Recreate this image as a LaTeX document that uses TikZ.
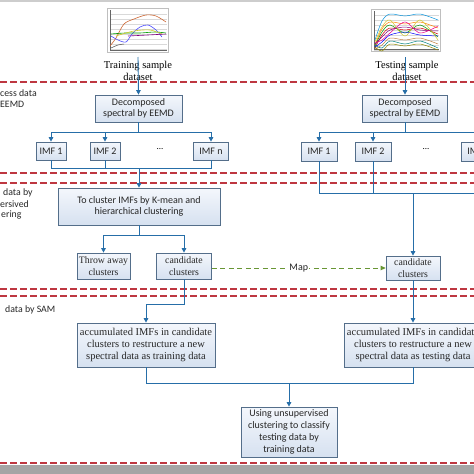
\documentclass[tikz,border=0pt]{standalone}
\usepackage{fontspec}
\setmainfont{Liberation Serif}
\newfontfamily\calib{Carlito}
\usetikzlibrary{positioning,arrows.meta,calc}
\definecolor{boxline}{RGB}{84,110,138}
\definecolor{boxtop}{RGB}{244,247,252}
\definecolor{boxbot}{RGB}{214,225,240}
\definecolor{flowline}{RGB}{38,110,168}
\definecolor{sepred}{RGB}{190,55,65}
\definecolor{mapgreen}{RGB}{104,150,52}
\definecolor{barlight}{RGB}{205,205,205}
\definecolor{bardark}{RGB}{165,165,165}

\begin{document}
\begin{tikzpicture}[x=1pt, y=-1pt,
    box/.style={draw=boxline, line width=0.7pt, top color=boxtop, bottom color=boxbot, inner sep=1pt, align=center, text=black!85},
    sbox/.style={box, font=\calib\fontsize{10}{11.5}\selectfont},
    tbox/.style={box, font=\fontsize{9.8}{11.5}\selectfont},
    line/.style={flowline, line width=0.9pt},
    arr/.style={line, -{Triangle[length=4.5pt,width=4.5pt]}},
    sep/.style={sepred, line width=1.1pt, dash pattern=on 7pt off 3pt},
    lbl/.style={anchor=west, inner sep=0pt, font=\calib\fontsize{9.8}{11}\selectfont, text=black!85}]
    \useasboundingbox (0,0) rectangle (474,474);
    \fill[barlight] (0,0) rectangle (474,2);
    \fill[bardark] (0,465) rectangle (474,474);

    % sample plots
    \draw[black!25, line width=0.3pt] (107,8) rectangle (168,52);
    \foreach \gy in {14,19,...,49} \draw[black!15, line width=0.3pt] (110,\gy) -- (167,\gy);
    \draw[black!60, line width=0.4pt] (110,10) -- (110,50) -- (167,50);
    \draw[brown!80!red, line width=0.6pt] plot[smooth] coordinates {(110,46) (116,38) (124,24) (134,19) (146,15) (156,16) (166,22)};
    \draw[blue!70, line width=0.6pt] plot[smooth] coordinates {(111,36) (118,40) (126,42) (132,34) (140,27) (148,25) (156,30) (162,37)};
    \draw[green!60!black, line width=0.6pt] plot[smooth] coordinates {(111,34) (125,33) (140,33) (155,32) (166,33)};
    \draw[yellow!80!black, line width=0.6pt] plot[smooth] coordinates {(116,36) (134,31) (150,30) (162,34)};
    \draw[violet, line width=0.6pt] plot[smooth] coordinates {(128,36) (148,35) (166,34)};
    \draw[black!70, line width=0.5pt] plot[smooth] coordinates {(111,48) (118,45) (124,44)};

    \draw[black!25, line width=0.3pt] (371,9) rectangle (440,51);
    \foreach \gy in {15,20,...,50} \draw[black!15, line width=0.3pt] (374,\gy) -- (439,\gy);
    \draw[black!60, line width=0.4pt] (374,11) -- (374,49) -- (439,49);
    \foreach \c/\a/\b/\d in {cyan!80!blue/40/14/16, orange/45/22/24, red!80!black/48/28/30, green!60!black/46/25/33, violet/44/30/27, blue/47/35/32, yellow!80!black/42/20/36, brown/49/38/40, magenta/43/33/22, teal/45/41/44, olive/47/44/46}
        \draw[\c, line width=0.5pt] plot[smooth] coordinates {(375,\a) (382,\b+7) (390,\b) (405,\d) (420,\b) (438,\d+4)};

    \node[font=\fontsize{10.5}{12}\selectfont, align=center, inner sep=0pt] (trtxt) at (138,71) {Training sample\\dataset};
    \node[font=\fontsize{10.5}{12}\selectfont, align=center, inner sep=0pt] (tetxt) at (407,71) {Testing sample\\dataset};
    \coordinate (trsrc) at (138,57);
    \coordinate (tesrc) at (405,57);

    % separators
    \foreach \sy in {82,173,183,289,296,463} \draw[sep] (0,\sy) -- (474,\sy);

    % side labels
    \node[lbl] (lbla) at (0,93) {cess data};
    \node[lbl] (lblb) at (0,104) {EEMD};
    \node[lbl] (lblc) at (3,193) {data by};
    \node[lbl] (lbld) at (0,204) {ersived};
    \node[lbl] (lble) at (1,215) {ering};
    \node[lbl] (lblf) at (5,310) {data by SAM};

    % training side
    \node[sbox, minimum width=87pt, minimum height=27pt] (dtr) at (138.5,108.5) {Decomposed\\spectral by EEMD};
    \node[sbox, minimum width=30pt, minimum height=18pt] (imfa1) at (51,151) {IMF 1};
    \node[sbox, minimum width=30pt, minimum height=18pt] (imfa2) at (105,151) {IMF 2};
    \node[font=\calib\fontsize{9}{11}\selectfont] (dotsa) at (160,149) {...};
    \node[sbox, minimum width=35pt, minimum height=18pt] (imfan) at (211,151) {IMF n};
    \node[sbox, minimum width=162pt, minimum height=37pt] (clus) at (139,206.5) {To cluster IMFs by K-mean and\\hierarchical clustering};
    \node[tbox, minimum width=53pt, minimum height=26pt] (throw) at (103.5,266) {Throw away\\clusters};
    \node[tbox, minimum width=55pt, minimum height=26pt] (cand1) at (184,266) {candidate\\clusters};
    \node[tbox, minimum width=138pt, minimum height=44pt, font=\fontsize{10.5}{12}\selectfont] (acc1) at (146,345) {accumulated IMFs in candidate\\clusters to restructure a new\\spectral data as training data};

    % testing side
    \node[sbox, minimum width=85pt, minimum height=27pt] (dte) at (405,108.5) {Decomposed\\spectral by EEMD};
    \node[sbox, minimum width=36pt, minimum height=19pt] (imfb1) at (319,151.5) {IMF 1};
    \node[sbox, minimum width=36pt, minimum height=19pt] (imfb2) at (373,151.5) {IMF 2};
    \node[font=\calib\fontsize{9}{11}\selectfont] (dotsb) at (426,149) {...};
    \node[sbox, minimum width=36pt, minimum height=19pt] (imfbn) at (479,151.5) {IMF n};
    \node[tbox, minimum width=54pt, minimum height=24pt] (cand2) at (413,268) {candidate\\clusters};
    \node[tbox, minimum width=138pt, minimum height=44pt, font=\fontsize{10.5}{12}\selectfont] (acc2) at (413,345) {accumulated IMFs in candidate\\clusters to restructure a new\\spectral data as testing data};

    \node[sbox, minimum width=96pt, minimum height=50pt, font=\calib\fontsize{10}{12}\selectfont] (final) at (289,432) {Using unsupervised\\clustering to classify\\testing data by\\training data};

    % connectors
    \draw[arr] (trsrc) -- (dtr.north);
    \draw[arr] (tesrc) -- (dte.north);
    \coordinate (busa) at (138.5,132);
    \draw[line] (dtr.south) -- (busa);
    \foreach \n in {imfa1,imfa2,imfan} \draw[arr] (busa) -| (\n.north);
    \coordinate (busb) at (405,132);
    \draw[line] (dte.south) -- (busb);
    \foreach \n in {imfb1,imfb2,imfbn} \draw[arr] (busb) -| (\n.north);
    \coordinate (mrga) at (139,168);
    \foreach \n in {imfa1,imfa2,imfan} \draw[line] (\n.south) |- (mrga);
    \draw[arr] (mrga) -- (clus.north);
    \coordinate (mrgb) at (413,193);
    \foreach \n in {imfb1,imfb2,imfbn} \draw[line] (\n.south) |- (mrgb);
    \draw[arr] (mrgb) -- (cand2.north);
    \coordinate (spl) at (139,235);
    \draw[line] (clus.south) -- (spl);
    \draw[arr] (spl) -| (throw.north);
    \draw[arr] (spl) -| (cand1.north);
    \draw[mapgreen, line width=0.9pt, dash pattern=on 5pt off 3.5pt, -{Triangle[length=5pt,width=4.5pt]}] (cand1.east |- cand2.west) -- node[fill=white, inner sep=1pt, font=\calib\fontsize{10}{11}\selectfont, text=black!85] (maplbl) {Map} (cand2.west);
    \draw[arr] (cand1.south) -- ++(0,25) -| (acc1.north);
    \draw[arr] (cand2.south) -- (acc2.north);
    \coordinate (mrgc) at (289,383);
    \draw[line] (acc1.south) |- (mrgc);
    \draw[line] (acc2.south) |- (mrgc);
    \draw[arr] (mrgc) -- (final.north);
\end{tikzpicture}
\end{document}
